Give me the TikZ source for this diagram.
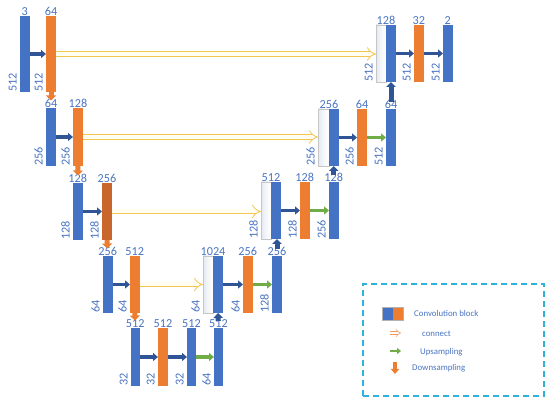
\documentclass[tikz,border=0pt]{standalone}
\usepackage{fontspec}
\setmainfont{Carlito}
\usetikzlibrary{arrows.meta}
\definecolor{cblue}{HTML}{4472C4}
\definecolor{corange}{HTML}{ED7D31}
\definecolor{cdorange}{HTML}{C9662C}
\definecolor{cdblue}{HTML}{2F5597}
\definecolor{cgreen}{HTML}{70AD47}
\definecolor{cyel}{HTML}{F2C650}
\definecolor{clab}{HTML}{4A74C2}
\definecolor{ccyan}{HTML}{2DB3D9}
\definecolor{cwgray}{HTML}{E4E9F2}
\tikzset{
  bar/.style={inner sep=0pt, outer sep=0pt, anchor=north west, draw=none},
  wbox/.style={bar, draw=gray!45, line width=0.5pt, left color=cwgray, right color=white, middle color=white!60!cwgray},
  toplab/.style={anchor=base, inner sep=0pt, text=clab, font=\fontsize{12.2}{12}\selectfont, yshift=0.3pt},
  sidelab/.style={rotate=90, anchor=south west, inner sep=0pt, text=clab, font=\fontsize{12.2}{12}\selectfont},
  convarrow/.style={draw=cdblue, line width=3.5pt, -{Triangle[width=8pt,length=5pt]}},
  uparrow/.style={draw=cgreen, line width=3.5pt, -{Triangle[width=8pt,length=5pt]}},
  downarrow/.style={draw=corange, line width=5pt, -{Triangle[width=10pt,length=5pt]}},
  liftarrow/.style={draw=cdblue, line width=5pt, -{Triangle[width=9.5pt,length=5pt]}},
  skip/.style={draw=cyel, line width=0.8pt, double=yellow!6, double distance=4pt, -{Implies}},
  legtext/.style={anchor=west, inner sep=0pt, text=clab, font=\fontsize{8.8}{10}\selectfont},
}
\newcommand{\ublk}[8]{%
  \node[bar,fill=#6,minimum width=#4pt,minimum height=#5pt] (#1) at (#2,#3) {};
  \node[toplab] (#1t) at (#1.north) {#7};
  \node[sidelab] (#1s) at ([xshift=-3pt]#1.south west) {#8};}
\newcommand{\dblk}[7]{%
  \node[wbox,minimum width=#4pt,minimum height=57pt] (#1w) at (#2,#3) {};
  \node[bar,fill=cblue,minimum width=#5pt,minimum height=57pt] (#1) at (#1w.north east) {};
  \node[toplab] (#1t) at (#1w.north east) {#6};
  \node[sidelab] (#1s) at ([xshift=-3pt]#1w.south west) {#7};}
\begin{document}
\begin{tikzpicture}[x=1pt,y=-1pt]
\fill[white] (0,0) rectangle (550,403);
\useasboundingbox (0,0) rectangle (550,403);
% encoder
\ublk{b1}{20}{16}{9.5}{76}{cblue}{3}{512}
\ublk{o1}{46}{16}{10}{76}{corange}{64}{512}
\ublk{b2}{46}{108}{10}{58}{cblue}{64}{256}
\ublk{o2}{73}{108}{10}{58}{corange}{128}{256}
\ublk{b3}{73}{183}{9.5}{57}{cblue}{128}{128}
\ublk{o3}{102}{183}{10}{57}{cdorange}{256}{128}
\ublk{b4}{103}{256}{9.5}{57}{cblue}{256}{64}
\ublk{o4}{130}{256}{9.5}{57}{corange}{512}{64}
% bottom
\ublk{b5a}{131}{328}{8.5}{58}{cblue}{512}{32}
\ublk{o5}{158}{328}{10}{58}{corange}{512}{32}
\ublk{b5b}{187}{328}{9}{58}{cblue}{512}{32}
\ublk{b5c}{214}{328}{9}{58}{cblue}{512}{64}
% decoder
\dblk{d4}{203}{256}{10}{10}{1024}{64}
\ublk{o6}{243}{256}{9.5}{57}{corange}{256}{64}
\ublk{b6}{272}{256}{10}{57}{cblue}{256}{128}
\dblk{d3}{261}{182}{10}{10}{512}{128}
\ublk{o7}{300}{182}{9.5}{57}{corange}{128}{128}
\ublk{b7}{329}{182}{9.5}{57}{cblue}{128}{256}
\dblk{d2}{318}{109}{11}{9.5}{256}{256}
\ublk{o8}{357}{109}{10}{57}{corange}{64}{256}
\ublk{b8}{386}{109}{10}{57}{cblue}{64}{512}
\dblk{d1}{376}{25}{10}{9.5}{128}{512}
\ublk{o9}{414}{25}{9.5}{57}{corange}{32}{512}
\ublk{b9}{443}{25}{9.5}{57}{cblue}{2}{512}
% conv arrows
\draw[convarrow] (b1) -- (o1);
\draw[convarrow] (b2) -- (o2);
\draw[convarrow] (b3) -- (o3);
\draw[convarrow] (b4) -- (o4);
\draw[convarrow] (b5a) -- (o5);
\draw[convarrow] (o5) -- (b5b);
\draw[uparrow] (b5b) -- (b5c);
\draw[convarrow] (d4) -- (o6);
\draw[uparrow] (o6) -- (b6);
\draw[convarrow] (d3) -- (o7);
\draw[uparrow] (o7) -- (b7);
\draw[convarrow] (d2) -- (o8);
\draw[uparrow] (o8) -- (b8);
\draw[convarrow] (d1) -- (o9);
\draw[convarrow] (o9) -- (b9);
% down arrows
\draw[downarrow, shorten >=7.5pt] (o1.south) -- (b2.north);
\draw[downarrow, shorten >=7.5pt] (o2.south) -- (b3.north);
\draw[downarrow, shorten >=7.5pt] (o3.south) -- (b4.north);
\draw[downarrow, shorten >=7.5pt] (o4.south) -- (b5a.north);
% up arrows
\draw[liftarrow, shorten <=7pt] (b5c.north) -- (d4.south);
\draw[liftarrow, shorten <=7pt] (b6.north) -- (b6.north |- d3.south);
\draw[liftarrow, shorten <=7pt] (b7.north) -- (b7.north |- d2.south);
\draw[liftarrow, shorten <=7pt] (b8.north) -- (b8.north |- d1.south);
% skip connections
\draw[skip] (o1.east) -- (o1.east -| d1w.west);
\draw[skip] (o2.east) -- (o2.east -| d2w.west);
\draw[skip] (o3.east) -- (o3.east -| d3w.west);
\draw[skip] (o4.east) -- (o4.east -| d4w.west);
% legend
\node[bar, draw=ccyan, line width=1.2pt, dash pattern=on 6pt off 4pt, minimum width=181pt, minimum height=112pt] (legend) at (363,284) {};
\node[bar, fill=cblue, minimum width=10.5pt, minimum height=13pt] (lgb) at (382,307) {};
\node[bar, fill=corange, minimum width=10.5pt, minimum height=13pt] (lgo) at (lgb.north east) {};
\draw[gray!60, line width=0.4pt] (lgb.north west) rectangle (lgo.south east);
\node[legtext] (lt1) at (414,313.5) {Convolution block};
\coordinate (lc1) at (390,333);
\coordinate (lc2) at (401,333);
\draw[draw=corange!80, line width=0.5pt, double=white, double distance=2.2pt, -{Implies}] (lc1) -- (lc2);
\node[legtext] (lt2) at (422,334) {connect};
\coordinate (lu1) at (390,351);
\coordinate (lu2) at (401,351);
\draw[draw=cgreen, line width=2.5pt, -{Triangle[width=6pt,length=4pt]}] (lu1) -- (lu2);
\node[legtext] (lt3) at (420,352) {Upsampling};
\coordinate (ld1) at (395,362);
\coordinate (ld2) at (395,374);
\draw[draw=corange, line width=3.5pt, -{Triangle[width=8pt,length=5pt]}] (ld1) -- (ld2);
\node[legtext] (lt4) at (412,368.5) {Downsampling};
\end{tikzpicture}
\end{document}
